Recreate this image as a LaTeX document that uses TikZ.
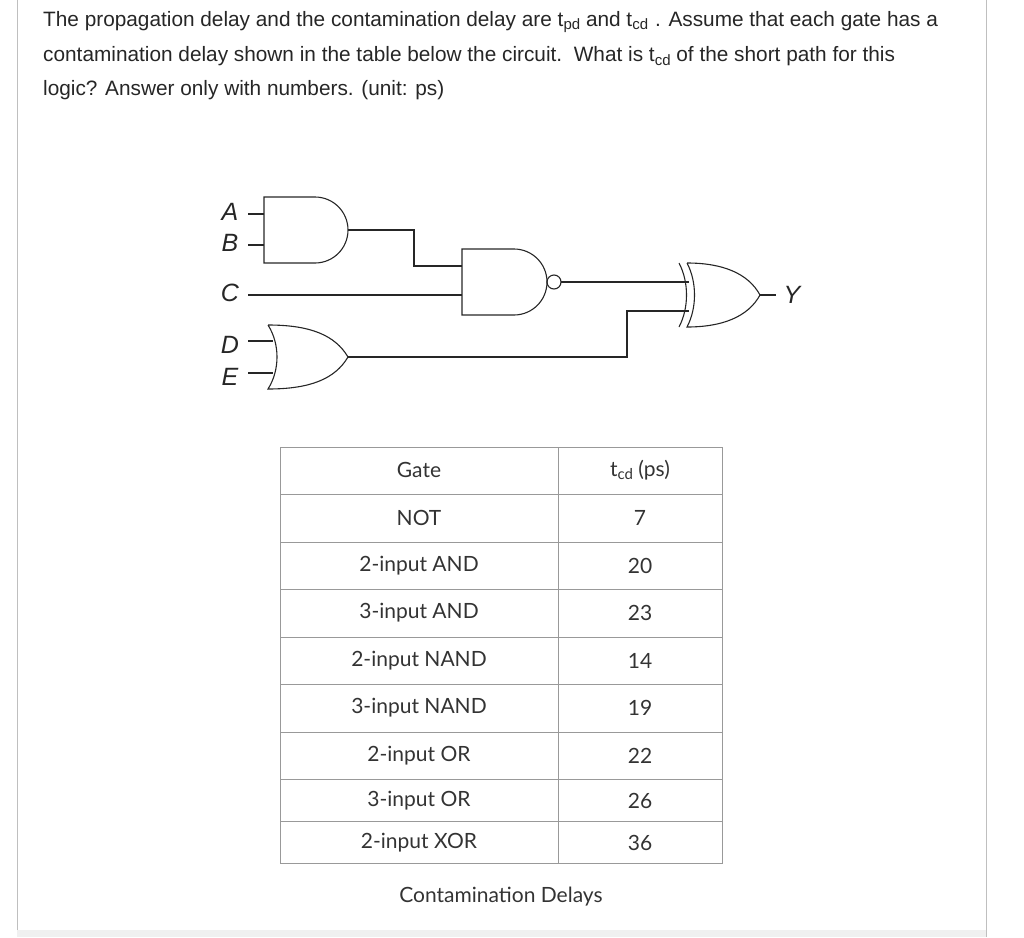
\documentclass[tikz,border=0pt]{standalone}
\usepackage{fontspec}
\setmainfont{Liberation Sans}
\newfontfamily\lato{Lato}
\begin{document}
\begin{tikzpicture}[x=1pt,y=-1pt,
  wire/.style={line width=1.1pt,black!85},
  gl/.style={font=\fontsize{25}{25}\selectfont\itshape,text=black!85},
  tl/.style={font=\lato\fontsize{21}{21}\selectfont,text=black!80},
  q/.style={font=\fontsize{20.8}{20.8}\selectfont,text=black!85,anchor=west,inner sep=0pt}]
\useasboundingbox (0,0) rectangle (1024,937);
\draw[black!25,line width=0.8pt] (17,0) -- (17,937) (986,0) -- (986,937);
\fill[black!6] (17,930) rectangle (986,937);
\newcommand{\sbs}[1]{\raisebox{-0.35ex}{\fontsize{15}{15}\selectfont #1}}
\node[q] (l1) at (43,22) {The propagation delay and the contamination delay are t\sbs{pd} and t\sbs{cd}\,\,. Assume that each gate has a};
\node[q] (l2) at (43,56) {contamination delay shown in the table below the circuit.\ \ What is t\sbs{cd} of the short path for this};
\node[q] (l3) at (43,90) {logic? Answer only with numbers. (unit: ps)};
% labels
\node[gl] (A) at (230,212) {A};
\node[gl] (B) at (230,243) {B};
\node[gl] (C) at (230,293) {C};
\node[gl] (D) at (230,345) {D};
\node[gl] (E) at (230,377) {E};
\node[gl] (Y) at (792,295) {Y};
% AND gate
\draw[wire] (264,197) -- (315,197) arc[start angle=-90,end angle=90,radius=33] -- (264,263) -- cycle;
\draw[wire] (248,214) -- (264,214) (248,245) -- (264,245);
% NAND
\draw[wire] (462,249) -- (514,249) arc[start angle=-90,end angle=90,radius=33] -- (462,315) -- cycle;
\draw[wire] (554,282) circle[radius=7];
\draw[wire] (348,230) -- (414,230) -- (414,266) -- (462,266);
\draw[wire] (248,295) -- (462,295);
% OR
\draw[wire] (268,325) .. controls (310,325) and (335,335) .. (348,357)
   .. controls (335,379) and (310,389) .. (268,389)
   .. controls (280,370) and (280,344) .. (268,325);
\draw[wire] (248,341) -- (273,341) (248,373) -- (273,373);
% XOR
\draw[wire] (687,263) .. controls (722,263) and (748,273) .. (760,295)
   .. controls (748,317) and (722,327) .. (687,327)
   .. controls (697,308) and (697,282) .. (687,263);
\draw[wire] (679,263) .. controls (689,282) and (689,308) .. (679,327);
\draw[wire] (561,282) -- (689,282);
\draw[wire] (348,357) -- (627,357) -- (627,311) -- (689,311);
\draw[wire] (760,295) -- (776,295);
% table
\draw[black!40,line width=0.8pt] (280,447) rectangle (722,863);
\draw[black!40,line width=0.8pt] (558,447) -- (558,863);
\foreach \yy in {494,542,589,637,684,732,779,821} \draw[black!40,line width=0.8pt] (280,\yy) -- (722,\yy);
\node[tl] (h1) at (419,470) {Gate};
\node[tl] (h2) at (640,470) {t\raisebox{-0.35ex}{\fontsize{15}{15}\selectfont cd} (ps)};
\node[tl] (g1) at (419,518) {NOT};        \node[tl] (v1) at (640,518) {7};
\node[tl] (g2) at (419,566) {2-input AND}; \node[tl] (v2) at (640,566) {20};
\node[tl] (g3) at (419,613) {3-input AND}; \node[tl] (v3) at (640,613) {23};
\node[tl] (g4) at (419,661) {2-input NAND};\node[tl] (v4) at (640,661) {14};
\node[tl] (g5) at (419,708) {3-input NAND};\node[tl] (v5) at (640,708) {19};
\node[tl] (g6) at (419,756) {2-input OR};  \node[tl] (v6) at (640,756) {22};
\node[tl] (g7) at (419,801) {3-input OR};  \node[tl] (v7) at (640,801) {26};
\node[tl] (g8) at (419,843) {2-input XOR}; \node[tl] (v8) at (640,843) {36};
\node[tl] (cap) at (501,897) {Contamination Delays};
\end{tikzpicture}
\end{document}
